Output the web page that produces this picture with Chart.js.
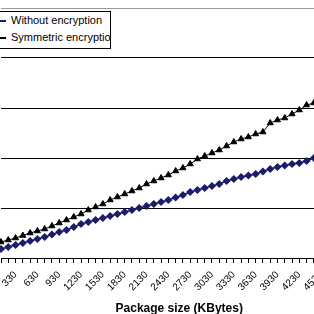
<!DOCTYPE html>
<html>
<head>
<meta charset="utf-8">
<script src="https://cdn.jsdelivr.net/npm/chart.js@4.4.0/dist/chart.umd.min.js"></script>
<style>
  html, body { margin: 0; padding: 0; background: #fff; overflow: hidden; width: 314px; height: 314px; }
  #wrap { position: absolute; left: -5px; top: 0; width: 377px; height: 316px; }
  #legenda {
    position: absolute; left: -2px; top: 11px; width: 111px; height: 36px;
    border: 1px solid #000; background: #fff; overflow: hidden;
    font-family: "Liberation Sans", Arial, sans-serif; font-size: 11px; color: #000;
  }
  .item { position: absolute; left: 0; white-space: nowrap; }
  .item span.traco { display: inline-block; width: 7px; height: 0; border-top: 2px solid #000; vertical-align: middle; margin-right: 5px; }
</style>
</head>
<body>
<div id="wrap"><canvas id="grafico" width="377" height="316"></canvas></div>
<div id="legenda">
  <div class="item" style="top:2px"><span class="traco" style="border-color:#1c1c6b"></span>Without encryption</div>
  <div class="item" style="top:19px"><span class="traco"></span>Symmetric encryption</div>
</div>
<script>
// tamanho do pacote (KBytes)
const tamanhos = [];
for (let t = 130; t <= 5030; t += 100) tamanhos.push(String(t));

// sem criptografia
const sem_cripto = [
  0.18, 0.22, 0.26, 0.30, 0.34, 0.38, 0.42, 0.47, 0.52, 0.56,
  0.62, 0.68, 0.72, 0.76, 0.80, 0.84, 0.88, 0.92, 0.96, 1.00,
  1.04, 1.08, 1.12, 1.16, 1.21, 1.26, 1.32, 1.36, 1.40, 1.44,
  1.48, 1.54, 1.58, 1.62, 1.65, 1.68, 1.73, 1.78, 1.82, 1.85,
  1.88, 1.90, 1.94, 2.00, 2.03, 2.06
];

// criptografia simetrica
const cripto_sim = [
  0.32, 0.36, 0.40, 0.45, 0.50, 0.54, 0.58, 0.64, 0.70, 0.76,
  0.82, 0.88, 0.96, 1.02, 1.08, 1.16, 1.22, 1.28, 1.34, 1.40,
  1.48, 1.54, 1.60, 1.66, 1.74, 1.80, 1.88, 1.98, 2.04, 2.10,
  2.16, 2.24, 2.32, 2.38, 2.42, 2.48, 2.52, 2.70, 2.76, 2.80,
  2.88, 2.96, 3.06, 3.10, 3.14, 3.18
];

const grafico = document.getElementById("grafico");

new Chart(grafico, {
  type: "line",
  data: {
    labels: tamanhos,
    datasets: [
      {
        label: "Without encryption",
        data: sem_cripto,
        borderWidth: 1.5,
        borderColor: "#1c1c6b",
        backgroundColor: "#1c1c6b",
        pointStyle: "rectRot",
        pointRadius: 3,
      },
      {
        label: "Symmetric encryption",
        data: cripto_sim,
        borderWidth: 1,
        borderColor: "#000000",
        backgroundColor: "#000000",
        pointStyle: "triangle",
        pointRadius: 3.5,
      },
    ],
  },
  options: {
    responsive: false,
    animation: false,
    layout: { padding: { left: 0, right: 0, top: 8, bottom: 0 } },
    scales: {
      x: {
        afterFit: function (scale) { scale.height = 58; },
        grid: {
          drawOnChartArea: false,
          color: "#000000",
          tickLength: 5,
        },
        border: { color: "#000000", width: 1 },
        ticks: {
          autoSkip: false,
          minRotation: 45,
          maxRotation: 45,
          padding: 6,
          color: "#000000",
          font: { family: "Liberation Sans", size: 10 },
          callback: function (val, index) {
            return index % 3 === 2 ? this.getLabelForValue(val) : "";
          },
        },
        title: {
          display: true,
          text: "Package size (KBytes)",
          color: "#000000",
          padding: 0,
          font: { family: "Liberation Sans", size: 12, weight: "bold" },
        },
      },
      y: {
        min: 0,
        max: 5,
        afterFit: function (scale) { scale.width = 0; },
        ticks: { display: false, stepSize: 1 },
        border: { display: false },
        grid: {
          drawTicks: false,
          color: function (ctx) {
            return ctx.tick && ctx.tick.value === 5 ? "#9a9a9a" : "#000000";
          },
        },
      },
    },
    plugins: {
      legend: { display: false },
      tooltip: { enabled: false },
    },
  },
});
</script>
</body>
</html>
